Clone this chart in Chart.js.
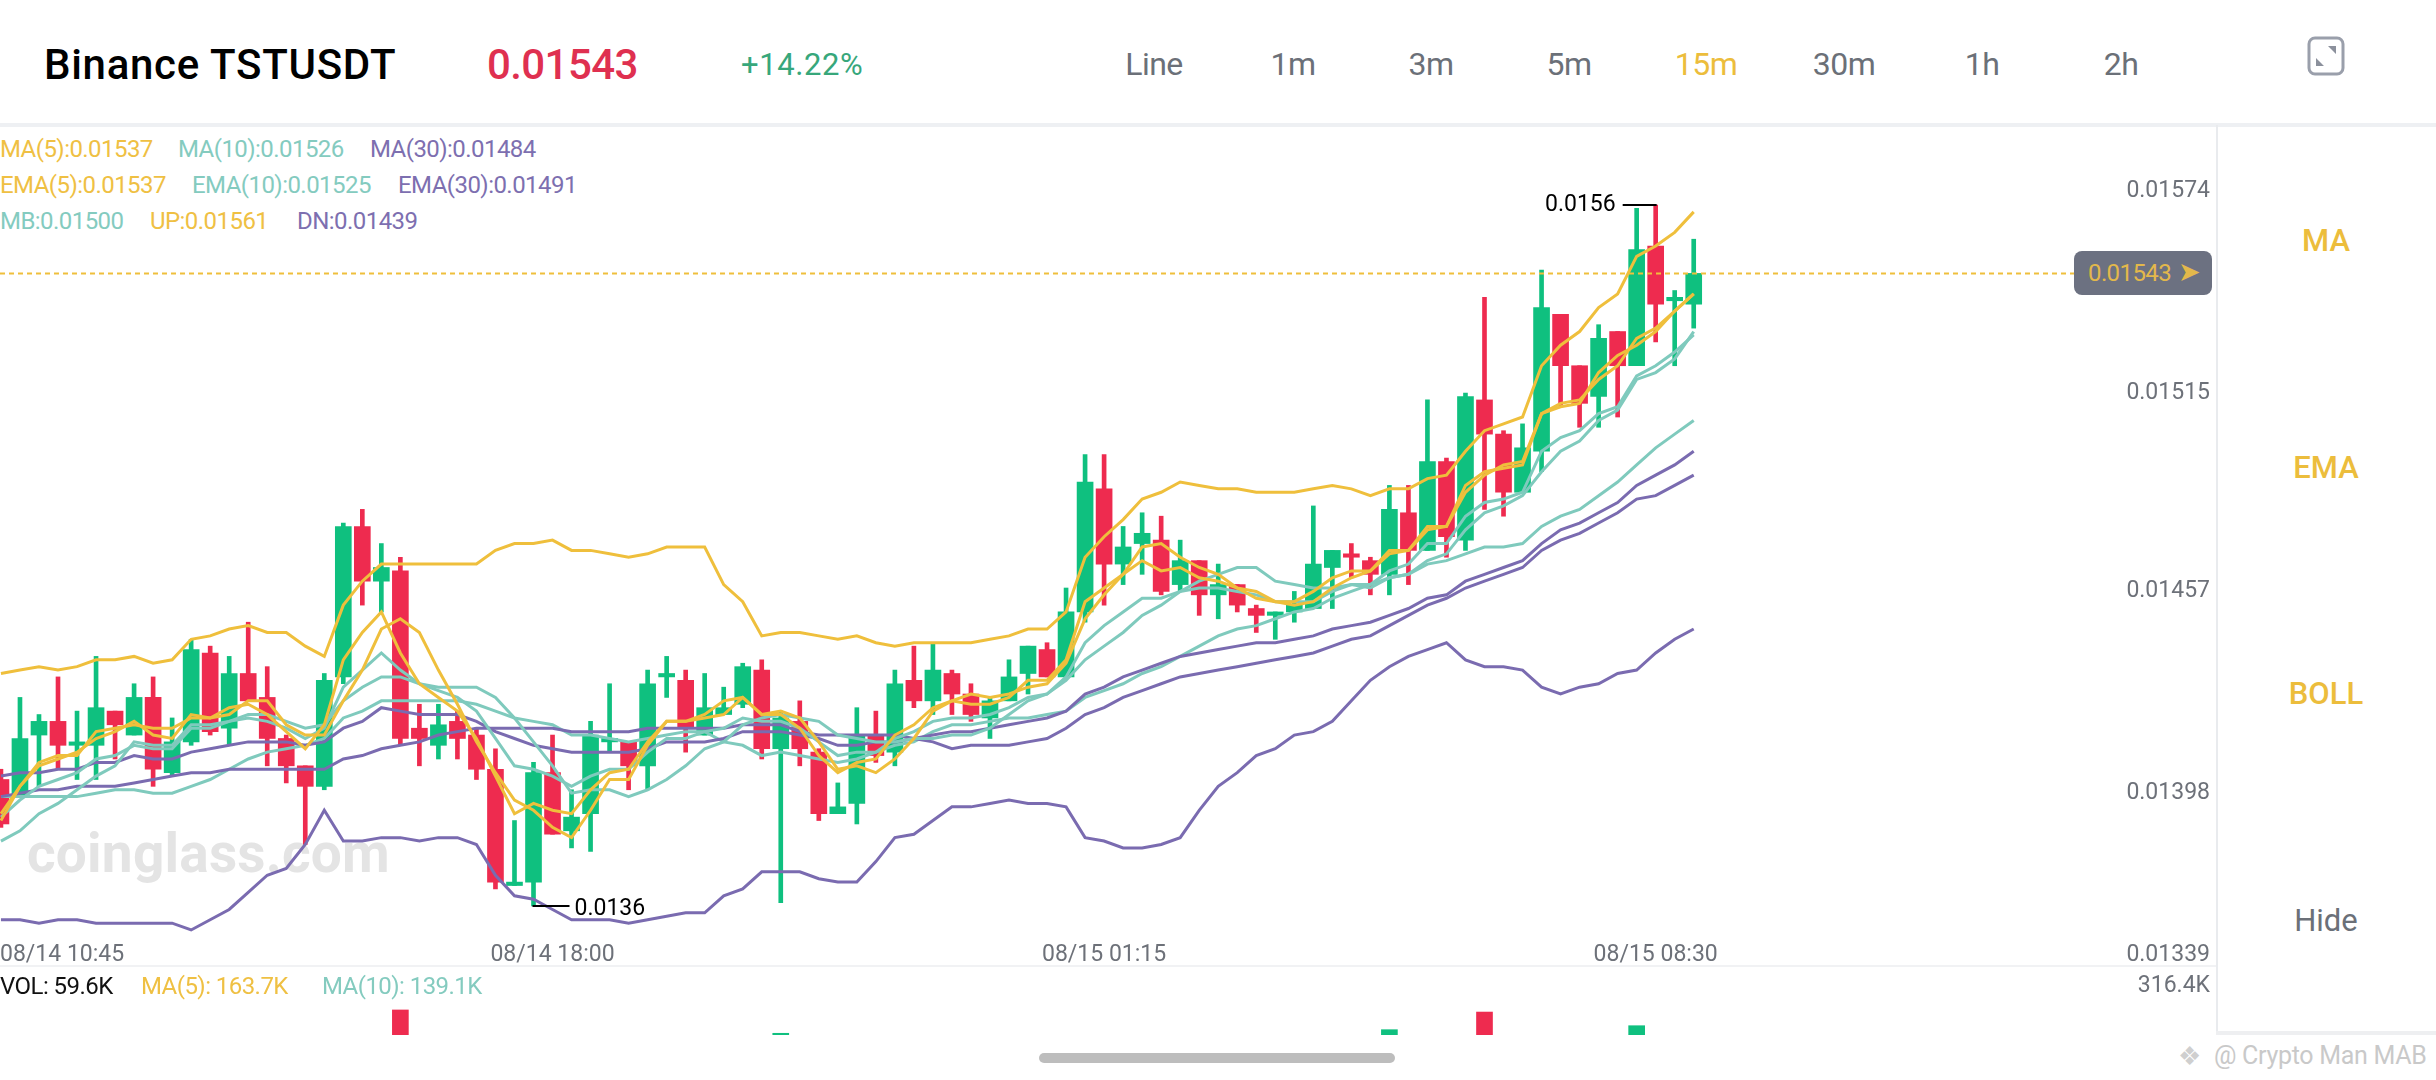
<!DOCTYPE html>
<html>
<head>
<meta charset="utf-8">
<title>Binance TSTUSDT</title>
<script src="https://cdn.jsdelivr.net/npm/chart.js@4/dist/chart.umd.min.js"></script>
<style>
    html, body { margin: 0; padding: 0; background: #fff; }
    #page { position: relative; width: 2436px; height: 1080px; overflow: hidden; font-family: Roboto, sans-serif; }
    #page div, #page span { position: absolute; white-space: nowrap; }
    canvas { position: absolute; left: 0; }
    .tab { top: 45px; font-size: 32px; line-height: 38px; color: #6b7078; transform: translateX(-50%); letter-spacing: -0.5px; }
    .side { left: 2326px; font-size: 31px; line-height: 36px; font-weight: 500; color: #ecbd3c; transform: translate(-50%, -50%); }
    .leg { font-size: 24px; line-height: 28px; letter-spacing: -0.55px; transform: translateY(-50%); }
    .yl { color: #efc043; } .te { color: #84cbbf; } .pu { color: #7d6fb0; }
</style>
</head>
<body>
<div id="page">
    <div style="left:44px;top:40px;font-size:42px;line-height:50px;font-weight:500;color:#000;letter-spacing:0.7px">Binance TSTUSDT</div>
    <div style="left:487px;top:40px;font-size:42px;line-height:50px;font-weight:500;color:#df3050;letter-spacing:-0.6px">0.01543</div>
    <div style="left:741px;top:46px;font-size:31px;line-height:38px;color:#37a77b;letter-spacing:0.6px">+14.22%</div>
    <div class="tab" style="left:1154px">Line</div>
    <div class="tab" style="left:1293px">1m</div>
    <div class="tab" style="left:1431px">3m</div>
    <div class="tab" style="left:1569px">5m</div>
    <div class="tab" style="left:1706px;color:#ecbd3c">15m</div>
    <div class="tab" style="left:1844px">30m</div>
    <div class="tab" style="left:1982px">1h</div>
    <div class="tab" style="left:2121px">2h</div>
    <svg style="position:absolute;left:2307px;top:36px" width="38" height="40" viewBox="0 0 38 40">
        <rect x="2" y="2" width="34" height="36" rx="6" fill="none" stroke="#9a9fab" stroke-width="3"/>
        <path d="M21 10h8v8l-3-3-2-2z M9 22l3 3 2 2 3 3H9z" fill="#8b909c"/>
    </svg>

    <div style="left:0;top:123px;width:2436px;height:4px;background:#eef0f3"></div>
    <div style="left:2216px;top:125px;width:2px;height:908px;background:#e9ebee"></div>
    <div style="left:2216px;top:1031px;width:220px;height:4px;background:#eeeff1"></div>
    <div style="left:0;top:965px;width:2216px;height:2px;background:#f1f2f4"></div>

    <div class="leg yl" style="left:0;top:149px">MA(5):0.01537</div>
    <div class="leg te" style="left:178px;top:149px">MA(10):0.01526</div>
    <div class="leg pu" style="left:370px;top:149px">MA(30):0.01484</div>
    <div class="leg yl" style="left:0;top:185px">EMA(5):0.01537</div>
    <div class="leg te" style="left:192px;top:185px">EMA(10):0.01525</div>
    <div class="leg pu" style="left:398px;top:185px">EMA(30):0.01491</div>
    <div class="leg te" style="left:0;top:221px">MB:0.01500</div>
    <div class="leg yl" style="left:150px;top:221px">UP:0.01561</div>
    <div class="leg pu" style="left:297px;top:221px">DN:0.01439</div>

    <div style="left:27px;top:815px;font-size:55px;line-height:76px;font-weight:700;color:#e4e4e4;letter-spacing:0.2px">coinglass.com</div>

    <canvas id="priceChart" width="2216" height="875" style="top:125px"></canvas>
    <canvas id="volumeChart" width="2216" height="60" style="top:975px"></canvas>

    <div style="left:2074px;top:251px;width:138px;height:44px;border-radius:8px;background:#6c7181"></div>
    <div style="left:2088px;top:259px;font-size:24px;line-height:28px;color:#e3b84b;letter-spacing:-0.6px">0.01543</div>
    <div style="left:2178px;top:257px;font-size:27px;line-height:30px;color:#e3b84b;font-family:'DejaVu Sans'">➤</div>

    <div class="side" style="top:241px">MA</div>
    <div class="side" style="top:468px">EMA</div>
    <div class="side" style="top:694px">BOLL</div>
    <div class="side" style="top:921px;color:#6b7078;font-weight:400">Hide</div>

    <div class="leg" style="left:0;top:986px;color:#111">VOL: 59.6K</div>
    <div class="leg yl" style="left:141px;top:986px">MA(5): 163.7K</div>
    <div class="leg te" style="left:322px;top:986px">MA(10): 139.1K</div>

    <div style="left:1039px;top:1053px;width:356px;height:10px;border-radius:5px;background:#bdbdbd"></div>
    <div style="left:2178px;top:1041px;font-size:26px;line-height:30px;color:#cfcfcf;font-family:'DejaVu Sans'">❖</div>
    <div style="left:2214px;top:1041px;font-size:25px;line-height:30px;color:#c9c9c9;letter-spacing:-0.3px">@ Crypto Man MAB</div>
</div>

<script>
// candles, 15m each, starting 08/14 10:45
const opens = [
    0.01395,0.01390,0.01408,0.01412,0.01405,0.01405,0.01415,0.01408,0.01419,0.01397,
    0.01406,0.01432,0.01410,0.01426,0.01419,0.01407,0.01399,0.01393,0.01425,0.01469,
    0.01453,0.01456,0.01410,0.01405,0.01412,0.01408,0.01398,0.01364,0.01365,0.01397,
    0.01380,0.01385,0.01406,0.01406,0.01399,0.01425,0.01424,0.01408,0.01414,0.01417,
    0.01427,0.01404,0.01412,0.01403,0.01385,0.01388,0.01408,0.01403,0.01424,0.01418,
    0.01426,0.01420,0.01413,0.01418,0.01426,0.01433,0.01425,0.01444,0.01480,0.01458,
    0.01464,0.01465,0.01452,0.01459,0.01449,0.01452,0.01445,0.01443,0.01444,0.01445,
    0.01457,0.01461,0.01459,0.01455,0.01473,0.01462,0.01488,0.01465,0.01506,0.01496,
    0.01479,0.01491,0.01531,0.01516,0.01507,0.01526,0.01516,0.01551,0.01535,0.01534];
const highs = [
    0.01398,0.01419,0.01414,0.01425,0.01415,0.01431,0.01415,0.01423,0.01425,0.01413,
    0.01436,0.01434,0.01431,0.01441,0.01428,0.01408,0.01399,0.01426,0.01470,0.01474,
    0.01464,0.01460,0.01417,0.01417,0.01415,0.01410,0.01404,0.01383,0.01400,0.01408,
    0.01392,0.01412,0.01423,0.01406,0.01427,0.01431,0.01427,0.01426,0.01422,0.01429,
    0.01430,0.01415,0.01418,0.01404,0.01394,0.01416,0.01415,0.01427,0.01434,0.01435,
    0.01427,0.01423,0.01419,0.01430,0.01434,0.01435,0.01451,0.01490,0.01490,0.01469,
    0.01473,0.01472,0.01465,0.01459,0.01458,0.01452,0.01446,0.01444,0.01450,0.01475,
    0.01462,0.01464,0.01460,0.01481,0.01481,0.01506,0.01489,0.01508,0.01536,0.01497,
    0.01499,0.01544,0.01531,0.01516,0.01528,0.01526,0.01562,0.01563,0.01538,0.01553];
const lows = [
    0.01381,0.01390,0.01393,0.01398,0.01395,0.01395,0.01401,0.01408,0.01393,0.01396,
    0.01405,0.01408,0.01405,0.01418,0.01399,0.01394,0.01376,0.01392,0.01423,0.01446,
    0.01444,0.01405,0.01399,0.01401,0.01401,0.01395,0.01363,0.01364,0.01358,0.01379,
    0.01375,0.01374,0.01403,0.01392,0.01392,0.01419,0.01403,0.01408,0.01414,0.01416,
    0.01401,0.01359,0.01399,0.01383,0.01385,0.01382,0.01400,0.01399,0.01416,0.01414,
    0.01414,0.01412,0.01407,0.01418,0.01420,0.01425,0.01425,0.01441,0.01446,0.01452,
    0.01455,0.01449,0.01450,0.01443,0.01442,0.01444,0.01438,0.01436,0.01441,0.01445,
    0.01445,0.01454,0.01449,0.01449,0.01452,0.01462,0.01460,0.01462,0.01474,0.01472,
    0.01479,0.01485,0.01504,0.01498,0.01498,0.01501,0.01516,0.01523,0.01516,0.01527];
const closes = [
    0.01382,0.01407,0.01412,0.01405,0.01406,0.01416,0.01411,0.01419,0.01398,0.01406,
    0.01433,0.01409,0.01426,0.01418,0.01407,0.01399,0.01393,0.01424,0.01469,0.01453,
    0.01457,0.01407,0.01407,0.01411,0.01407,0.01398,0.01365,0.01365,0.01397,0.01379,
    0.01384,0.01408,0.01407,0.01399,0.01423,0.01426,0.01410,0.01416,0.01416,0.01428,
    0.01404,0.01413,0.01404,0.01385,0.01387,0.01408,0.01402,0.01423,0.01418,0.01427,
    0.01420,0.01414,0.01418,0.01425,0.01434,0.01425,0.01444,0.01482,0.01458,0.01463,
    0.01467,0.01450,0.01459,0.01449,0.01452,0.01446,0.01443,0.01444,0.01446,0.01458,
    0.01462,0.01460,0.01455,0.01474,0.01462,0.01488,0.01466,0.01507,0.01496,0.01479,
    0.01492,0.01533,0.01516,0.01505,0.01524,0.01516,0.01550,0.01534,0.01536,0.01543];

const ma5 = [
    0.01383,0.01393,0.01400,0.01402,0.01402,0.01409,0.01410,0.01411,0.01410,0.01410,
    0.01413,0.01413,0.01414,0.01418,0.01418,0.01411,0.01408,0.01408,0.01418,0.01427,
    0.01439,0.01442,0.01438,0.01427,0.01417,0.01406,0.01397,0.01389,0.01386,0.01381,
    0.01378,0.01386,0.01395,0.01395,0.01405,0.01412,0.01412,0.01414,0.01418,0.01419,
    0.01414,0.01415,0.01413,0.01406,0.01398,0.01399,0.01397,0.01401,0.01407,0.01415,
    0.01418,0.01420,0.01419,0.01420,0.01422,0.01423,0.01429,0.01442,0.01449,0.01455,
    0.01463,0.01464,0.01460,0.01457,0.01455,0.01451,0.01450,0.01447,0.01446,0.01447,
    0.01451,0.01454,0.01456,0.01462,0.01462,0.01468,0.01469,0.01479,0.01484,0.01487,
    0.01488,0.01502,0.01504,0.01505,0.01514,0.01519,0.01522,0.01526,0.01532,0.01537];
const ema5 = [
    0.01385,0.01393,0.01399,0.01401,0.01403,0.01407,0.01409,0.01412,0.01408,0.01407,
    0.01414,0.01413,0.01416,0.01417,0.01414,0.01409,0.01404,0.01411,0.01430,0.01438,
    0.01444,0.01432,0.01423,0.01419,0.01415,0.01407,0.01396,0.01385,0.01388,0.01386,
    0.01385,0.01392,0.01397,0.01398,0.01406,0.01412,0.01412,0.01413,0.01414,0.01419,
    0.01414,0.01414,0.01410,0.01402,0.01397,0.01400,0.01401,0.01408,0.01411,0.01416,
    0.01418,0.01417,0.01417,0.01419,0.01424,0.01424,0.01430,0.01447,0.01451,0.01455,
    0.01459,0.01456,0.01457,0.01454,0.01453,0.01451,0.01448,0.01447,0.01447,0.01450,
    0.01454,0.01456,0.01456,0.01461,0.01462,0.01469,0.01469,0.01481,0.01485,0.01486,
    0.01487,0.01502,0.01505,0.01506,0.01512,0.01516,0.01524,0.01527,0.01532,0.01537];
const ma10 = [
    0.01377,0.01380,0.01385,0.01388,0.01392,0.01396,0.01399,0.01406,0.01405,0.01405,
    0.01411,0.01411,0.01412,0.01414,0.01414,0.01412,0.01410,0.01411,0.01418,0.01422,
    0.01425,0.01425,0.01423,0.01422,0.01422,0.01422,0.01419,0.01413,0.01406,0.01399,
    0.01391,0.01392,0.01392,0.01390,0.01392,0.01395,0.01399,0.01404,0.01406,0.01411,
    0.01413,0.01414,0.01413,0.01412,0.01408,0.01407,0.01406,0.01406,0.01407,0.01407,
    0.01408,0.01408,0.01410,0.01414,0.01418,0.01420,0.01424,0.01430,0.01434,0.01438,
    0.01443,0.01446,0.01450,0.01453,0.01455,0.01457,0.01457,0.01453,0.01452,0.01451,
    0.01451,0.01452,0.01451,0.01454,0.01455,0.01459,0.01461,0.01468,0.01473,0.01475,
    0.01478,0.01485,0.01491,0.01494,0.01500,0.01503,0.01512,0.01514,0.01518,0.01526];
const ema10 = [
    0.01384,0.01389,0.01393,0.01395,0.01397,0.01401,0.01402,0.01405,0.01404,0.01404,
    0.01410,0.01410,0.01412,0.01413,0.01412,0.01410,0.01407,0.01410,0.01422,0.01427,
    0.01432,0.01427,0.01423,0.01421,0.01419,0.01415,0.01407,0.01399,0.01398,0.01396,
    0.01393,0.01396,0.01398,0.01398,0.01403,0.01407,0.01407,0.01409,0.01410,0.01413,
    0.01412,0.01412,0.01410,0.01406,0.01402,0.01403,0.01403,0.01407,0.01409,0.01412,
    0.01413,0.01413,0.01414,0.01416,0.01419,0.01420,0.01425,0.01435,0.01440,0.01444,
    0.01448,0.01448,0.01450,0.01451,0.01451,0.01450,0.01449,0.01447,0.01447,0.01447,
    0.01450,0.01452,0.01452,0.01456,0.01458,0.01464,0.01464,0.01472,0.01476,0.01477,
    0.01479,0.01491,0.01495,0.01497,0.01502,0.01504,0.01513,0.01516,0.01520,0.01525];
const ma30 = [
    0.01390,0.01391,0.01392,0.01392,0.01393,0.01393,0.01393,0.01394,0.01395,0.01396,
    0.01397,0.01397,0.01398,0.01398,0.01398,0.01398,0.01398,0.01398,0.01401,0.01402,
    0.01404,0.01405,0.01406,0.01408,0.01409,0.01410,0.01410,0.01410,0.01410,0.01410,
    0.01409,0.01409,0.01409,0.01409,0.01410,0.01410,0.01410,0.01410,0.01410,0.01411,
    0.01411,0.01411,0.01409,0.01408,0.01408,0.01408,0.01408,0.01408,0.01407,0.01406,
    0.01404,0.01405,0.01405,0.01405,0.01406,0.01407,0.01410,0.01414,0.01416,0.01419,
    0.01421,0.01423,0.01425,0.01426,0.01427,0.01428,0.01429,0.01430,0.01431,0.01432,
    0.01434,0.01436,0.01437,0.01440,0.01443,0.01446,0.01448,0.01451,0.01453,0.01455,
    0.01457,0.01462,0.01465,0.01467,0.01470,0.01473,0.01477,0.01478,0.01481,0.01484];
const ema30 = [
    0.01396,0.01397,0.01397,0.01398,0.01398,0.01400,0.01400,0.01402,0.01401,0.01401,
    0.01403,0.01404,0.01405,0.01406,0.01406,0.01406,0.01405,0.01406,0.01410,0.01412,
    0.01416,0.01415,0.01414,0.01414,0.01414,0.01412,0.01409,0.01407,0.01405,0.01404,
    0.01403,0.01403,0.01403,0.01403,0.01404,0.01406,0.01406,0.01406,0.01407,0.01409,
    0.01409,0.01409,0.01408,0.01407,0.01405,0.01405,0.01406,0.01406,0.01407,0.01408,
    0.01409,0.01409,0.01410,0.01411,0.01412,0.01413,0.01415,0.01420,0.01422,0.01425,
    0.01427,0.01429,0.01431,0.01432,0.01433,0.01434,0.01435,0.01435,0.01436,0.01437,
    0.01439,0.01440,0.01441,0.01443,0.01445,0.01448,0.01449,0.01453,0.01455,0.01457,
    0.01459,0.01464,0.01468,0.01470,0.01473,0.01476,0.01481,0.01484,0.01487,0.01491];
const bollMid = [
    0.01390,0.01390,0.01390,0.01390,0.01390,0.01391,0.01392,0.01392,0.01391,0.01391,
    0.01393,0.01395,0.01398,0.01401,0.01403,0.01404,0.01405,0.01407,0.01413,0.01415,
    0.01418,0.01418,0.01418,0.01418,0.01418,0.01417,0.01415,0.01413,0.01412,0.01411,
    0.01408,0.01408,0.01407,0.01406,0.01407,0.01408,0.01409,0.01409,0.01406,0.01405,
    0.01402,0.01403,0.01402,0.01401,0.01400,0.01401,0.01403,0.01405,0.01406,0.01409,
    0.01411,0.01411,0.01412,0.01413,0.01413,0.01414,0.01415,0.01419,0.01421,0.01423,
    0.01426,0.01428,0.01431,0.01434,0.01437,0.01439,0.01440,0.01442,0.01444,0.01445,
    0.01448,0.01450,0.01452,0.01454,0.01455,0.01458,0.01459,0.01461,0.01463,0.01463,
    0.01464,0.01469,0.01472,0.01474,0.01478,0.01482,0.01487,0.01492,0.01496,0.01500];
const bollUp = [
    0.01426,0.01427,0.01428,0.01427,0.01428,0.01430,0.01430,0.01431,0.01429,0.01430,
    0.01436,0.01437,0.01439,0.01440,0.01438,0.01438,0.01434,0.01431,0.01446,0.01453,
    0.01458,0.01458,0.01458,0.01458,0.01458,0.01458,0.01462,0.01464,0.01464,0.01465,
    0.01462,0.01462,0.01461,0.01460,0.01461,0.01463,0.01463,0.01463,0.01452,0.01447,
    0.01437,0.01438,0.01438,0.01437,0.01436,0.01437,0.01435,0.01434,0.01435,0.01435,
    0.01435,0.01435,0.01436,0.01437,0.01439,0.01439,0.01444,0.01460,0.01466,0.01471,
    0.01477,0.01479,0.01482,0.01481,0.01480,0.01480,0.01479,0.01479,0.01479,0.01480,
    0.01481,0.01480,0.01478,0.01480,0.01480,0.01483,0.01484,0.01491,0.01497,0.01499,
    0.01501,0.01516,0.01522,0.01526,0.01533,0.01537,0.01548,0.01551,0.01555,0.01561];
const bollDn = [
    0.01354,0.01354,0.01353,0.01354,0.01354,0.01353,0.01353,0.01353,0.01353,0.01353,
    0.01351,0.01354,0.01357,0.01362,0.01367,0.01369,0.01376,0.01386,0.01377,0.01377,
    0.01378,0.01378,0.01377,0.01378,0.01378,0.01376,0.01367,0.01361,0.01360,0.01357,
    0.01354,0.01354,0.01354,0.01353,0.01354,0.01355,0.01356,0.01356,0.01361,0.01363,
    0.01368,0.01368,0.01368,0.01366,0.01365,0.01365,0.01371,0.01378,0.01379,0.01383,
    0.01387,0.01387,0.01388,0.01389,0.01388,0.01388,0.01387,0.01378,0.01377,0.01375,
    0.01375,0.01376,0.01378,0.01386,0.01393,0.01397,0.01402,0.01404,0.01408,0.01409,
    0.01412,0.01418,0.01424,0.01428,0.01431,0.01433,0.01435,0.01430,0.01428,0.01428,
    0.01427,0.01422,0.01420,0.01422,0.01423,0.01426,0.01427,0.01432,0.01436,0.01439];

const lastPrice = 0.01543;
const priceTicks = [0.01574, 0.01515, 0.01457, 0.01398, 0.01339];
const timeTickIndex = [0, 29, 58, 87];
const timeTickLabels = ['08/14 10:45', '08/14 18:00', '08/15 01:15', '08/15 08:30'];

// only the volume bars that are visible in the shot
const volumeIndex = [21, 41, 73, 78, 86];
const volumeValues = [132000, 9000, 28000, 121000, 49000];
const volumeMax = 316400;

const UP_COLOR = '#0fc07f';
const DOWN_COLOR = '#ee2b4f';
const YELLOW = '#efbf3c';
const TEAL = '#7fcabd';
const PURPLE = '#7a6bb0';
const TICK_COLOR = '#6d7179';
const TICK_FONT = { family: 'Roboto', size: 23 };

const candleColors = closes.map((c, i) => c >= opens[i] ? UP_COLOR : DOWN_COLOR);
const toPoints = arr => arr.map((v, i) => ({ x: i, y: v }));

function lineSet(label, values, color) {
    return { type: 'line', label, data: toPoints(values), borderColor: color, borderWidth: 3,
        pointRadius: 0, tension: 0, order: 1 };
}

// the app draws its axis text off the true tick position, so nudge labels after layout
const tickNudge = {
    id: 'tickNudge',
    afterLayout(chart) {
        const y = chart.scales.y;
        y.getLabelItems(chart.chartArea).forEach((item, i) => {
            item.options.translation[1] += chart.canvas.id === 'priceChart' ? (i === priceTicks.length - 1 ? -16 : 24) : 11;
        });
        if (chart.canvas.id !== 'priceChart') return;
        chart.scales.x.getLabelItems(chart.chartArea).forEach((item, i) => {
            item.options.translation[1] -= 2;
            if (i === 0) {
                item.options.textAlign = 'left';
                item.options.translation[0] = 0;
            }
        });
    }
};

// max / min markers with their leader lines
const extremeMarks = {
    id: 'extremeMarks',
    afterDatasetsDraw(chart) {
        const { ctx, scales: { x, y } } = chart;
        const hi = highs.indexOf(Math.max(...highs));
        const lo = lows.indexOf(Math.min(...lows));
        ctx.save();
        ctx.strokeStyle = '#000';
        ctx.fillStyle = '#000';
        ctx.lineWidth = 2;
        ctx.font = '23px Roboto';
        ctx.textBaseline = 'middle';

        const hx = x.getPixelForValue(hi), hy = y.getPixelForValue(highs[hi]);
        ctx.beginPath(); ctx.moveTo(hx + 1, hy); ctx.lineTo(hx - 33, hy); ctx.stroke();
        ctx.textAlign = 'right';
        ctx.fillText('0.0156', hx - 40, hy);

        const lx = x.getPixelForValue(lo), ly = y.getPixelForValue(lows[lo]);
        ctx.beginPath(); ctx.moveTo(lx - 1, ly); ctx.lineTo(lx + 36, ly); ctx.stroke();
        ctx.textAlign = 'left';
        ctx.fillText('0.0136', lx + 41, ly + 3);
        ctx.restore();
    }
};

const xMin = -0.05;
const xMax = 116.46;

// no inner padding from the tick text: the plot has to reach the canvas edges
const noPadding = s => {
    s.paddingLeft = s.paddingRight = s.paddingTop = s.paddingBottom = 0;
};

new Chart(document.getElementById('priceChart'), {
    data: {
        datasets: [
            lineSet('MA(5)', ma5, YELLOW),
            lineSet('EMA(5)', ema5, YELLOW),
            lineSet('MA(10)', ma10, TEAL),
            lineSet('EMA(10)', ema10, TEAL),
            lineSet('MA(30)', ma30, PURPLE),
            lineSet('EMA(30)', ema30, PURPLE),
            lineSet('MB', bollMid, TEAL),
            lineSet('UP', bollUp, YELLOW),
            lineSet('DN', bollDn, PURPLE),
            { type: 'line', label: 'Last', data: [{ x: xMin, y: lastPrice }, { x: 109, y: lastPrice }],
                borderColor: YELLOW, borderWidth: 2, borderDash: [5, 4], pointRadius: 0, order: 1 },
            { type: 'bar', label: 'Body', data: closes.map((c, i) => ({ x: i, y: [opens[i], c] })),
                backgroundColor: candleColors, barThickness: 16, grouped: false, order: 2 },
            { type: 'bar', label: 'Wick', data: highs.map((h, i) => ({ x: i, y: [lows[i], h] })),
                backgroundColor: candleColors, barThickness: 4, grouped: false, order: 3 }
        ]
    },
    plugins: [tickNudge, extremeMarks],
    options: {
        responsive: false,
        animation: false,
        layout: { padding: 0 },
        plugins: { legend: { display: false }, tooltip: { enabled: false } },
        scales: {
            x: {
                type: 'linear', min: xMin, max: xMax, offset: false,
                grid: { display: false, drawTicks: false }, border: { display: false },
                afterBuildTicks: s => { s.ticks = timeTickIndex.map(v => ({ value: v })); },
                afterFit: s => { s.height = 29; noPadding(s); },
                ticks: { autoSkip: false, maxRotation: 0, padding: 0, mirror: true, color: TICK_COLOR, font: TICK_FONT,
                    callback: v => timeTickLabels[timeTickIndex.indexOf(v)] }
            },
            y: {
                position: 'right', min: 0.01339, max: 0.015864,
                grid: { display: false, drawTicks: false }, border: { display: false },
                afterBuildTicks: s => { s.ticks = priceTicks.map(v => ({ value: v })); },
                afterFit: s => { s.width = 0; noPadding(s); },
                ticks: { mirror: true, padding: -6, color: TICK_COLOR, font: TICK_FONT,
                    callback: v => v.toFixed(5) }
            }
        }
    }
});

new Chart(document.getElementById('volumeChart'), {
    data: {
        datasets: [{
            type: 'bar', label: 'VOL',
            data: volumeIndex.map((ix, i) => ({ x: ix, y: volumeValues[i] })),
            backgroundColor: volumeIndex.map(ix => candleColors[ix]),
            barThickness: 16, grouped: false
        }]
    },
    plugins: [tickNudge],
    options: {
        responsive: false,
        animation: false,
        layout: { padding: 0 },
        plugins: { legend: { display: false }, tooltip: { enabled: false } },
        scales: {
            x: { type: 'linear', min: xMin, max: xMax, offset: false, display: false },
            y: {
                position: 'right', min: 0, max: volumeMax,
                grid: { display: false, drawTicks: false }, border: { display: false },
                afterBuildTicks: s => { s.ticks = [{ value: volumeMax }]; },
                afterFit: s => { s.width = 0; noPadding(s); },
                ticks: { mirror: true, padding: -6, color: TICK_COLOR, font: TICK_FONT,
                    callback: v => (v / 1000).toFixed(1) + 'K' }
            }
        }
    }
});
</script>
</body>
</html>
